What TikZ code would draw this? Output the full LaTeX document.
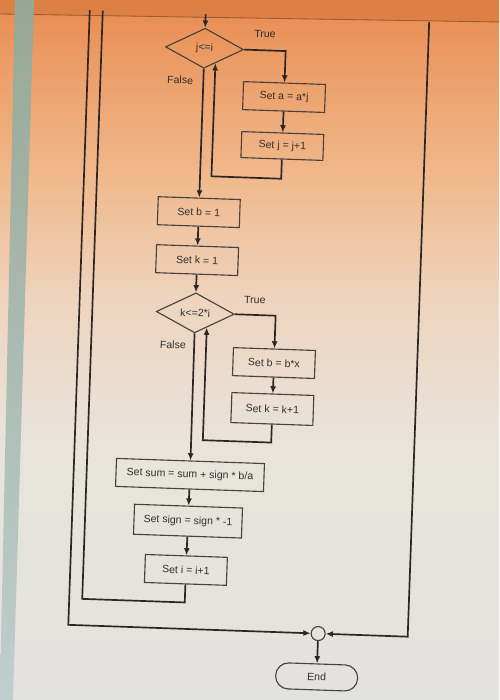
\documentclass[tikz,border=0pt]{standalone}
\usepackage{fontspec}
\setmainfont{Liberation Sans}
\usetikzlibrary{shapes.geometric,arrows.meta}

\definecolor{flowline}{RGB}{45,38,36}
\definecolor{boxline}{RGB}{72,66,62}
\definecolor{flowtext}{RGB}{50,48,46}
\definecolor{bgband}{RGB}{222,128,70}
\definecolor{bgtop}{RGB}{232,142,84}
\definecolor{bgorange}{RGB}{236,156,102}
\definecolor{bgpeach}{RGB}{240,186,142}
\definecolor{bgmid}{RGB}{238,212,190}
\definecolor{bglow}{RGB}{232,228,220}
\definecolor{bgbot}{RGB}{226,226,222}
\definecolor{stripetop}{RGB}{150,168,148}
\definecolor{stripebot}{RGB}{192,206,206}

\pgfdeclareverticalshading{screenshade}{100bp}{color(0bp)=(bgbot); color(25bp)=(bgbot); color(43bp)=(bglow); color(53.6bp)=(bgmid); color(62bp)=(bgpeach); color(70.7bp)=(bgorange); color(74bp)=(bgtop); color(100bp)=(bgtop)}

\begin{document}
\begin{tikzpicture}[
    font=\fontsize{7.5}{9}\selectfont,
    every node/.append style={text=flowtext},
    process/.style={draw=boxline, line width=0.8pt, rectangle, minimum width=2.05cm, minimum height=0.7cm, inner sep=1pt},
    decision/.style={draw=boxline, line width=0.8pt, diamond, minimum width=1.95cm, minimum height=1cm, inner sep=0pt},
    terminal/.style={draw=boxline, line width=0.8pt, rounded corners=3.2mm, minimum width=2.05cm, minimum height=0.65cm},
    junction/.style={draw=boxline, line width=0.8pt, circle, minimum size=0.35cm, inner sep=0pt},
    flow/.style={draw=flowline, line width=1.2pt, -{Latex[length=1.8mm,width=1.5mm]}},
    link/.style={draw=flowline, line width=1.2pt}]
		% Screen background
		\useasboundingbox (0,0) rectangle (12.475,17.5);
		\shade[shading=screenshade] (0,0) rectangle (12.475,17.5);
		\fill[bgband] (0,17.5) -- (12.475,17.5) -- (12.475,16.95) -- (0,17.15) -- cycle;
		\draw[bgband!70!black, line width=0.6pt] (0,17.15) -- (12.475,16.95);
		\shade[top color=stripetop, bottom color=stripebot] (0.375,17.5) -- (0.85,17.5) -- (0.325,0) -- (0,0) -- (0,0.3) -- cycle;
		% Flowchart, turned a little as in the photo
		\begin{scope}[rotate around={-2:(6.24,8.75)}, transform shape]
			% Inner loop over j
			\node[decision] (jtest) at (4.85,16.25) {j<=i};
			\node[process] (seta) at (6.88,15.1) {Set a = a*j};
			\node[process, minimum height=0.65cm] (setj) at (6.88,13.875) {Set j = j+1};
			% Inner loop over k
			\node[process] (setb) at (4.85,12.15) {Set b = 1};
			\node[process] (setk) at (4.85,10.95) {Set k = 1};
			\node[decision] (ktest) at (4.85,9.63) {k<=2*i};
			\node[process] (setbx) at (6.86,8.445) {Set b = b*x};
			\node[process, minimum height=0.75cm] (setkk) at (6.86,7.295) {Set k = k+1};
			% Update of the sum
			\node[process, minimum width=3.7cm] (setsum) at (4.86,5.575) {Set sum = sum + sign * b/a};
			\node[process, minimum width=2.7cm, minimum height=0.75cm] (setsign) at (4.85,4.42) {Set sign = sign * -1};
			\node[process] (seti) at (4.84,3.2) {Set i = i+1};
			% Exit
			\node[junction] (join) at (8.2,1.725) {};
			\node[terminal] (stop) at (8.2,0.64) {End};
			% Branch labels
			\node (truej) at (6.35,16.66) {True};
			\node (falsej) at (4.27,15.435) {False};
			\node (truek) at (6.33,10.0) {True};
			\node (falsek) at (4.32,8.81) {False};
			% Loose ends at the top edge
			\coordinate (topin) at (4.85,17.1);
			\coordinate (outertop) at (1.95,17.1);
			\coordinate (innertop) at (2.275,17.1);
			\coordinate (righttop) at (10.44,17.1);
			% Connectors
			\draw[flow] (topin) -- (jtest.north);
			\draw[flow] (jtest.east) -| (seta.north);
			\draw[flow] (seta) -- (setj);
			\draw[flow] (setj.south) -- ++(0,-0.48) -| (jtest.-52.5);
			\draw[flow] (jtest.south) -- (setb.north);
			\draw[flow] (setb) -- (setk);
			\draw[flow] (setk) -- (ktest);
			\draw[flow] (ktest.east) -| (setbx.north);
			\draw[flow] (setbx) -- (setkk);
			\draw[flow] (setkk.south) -- ++(0,-0.45) -| (ktest.-50);
			\draw[flow] (ktest.south) -- (setsum.north);
			\draw[flow] (setsum) -- (setsign);
			\draw[flow] (setsign) -- (seti);
			\draw[link] (seti.south) -- ++(0,-0.45) -| (innertop);
			\draw[flow] (outertop) |- (join.west);
			\draw[flow] (righttop) |- (join.east);
			\draw[flow] (join) -- (stop);
		\end{scope}
	\end{tikzpicture}
\end{document}
